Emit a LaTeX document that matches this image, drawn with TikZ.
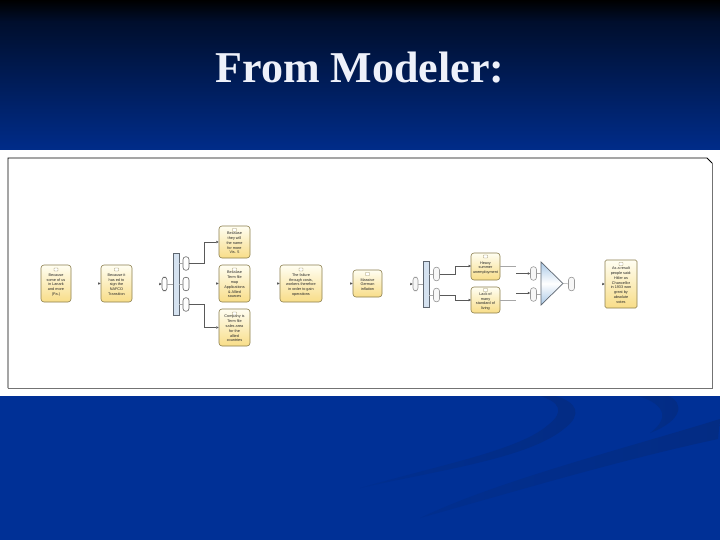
\documentclass[tikz,border=0pt]{standalone}
\usepackage{fontspec}
\setmainfont{Liberation Serif}
\setsansfont{Liberation Sans}
\usetikzlibrary{shapes.misc,shapes.geometric,arrows.meta,calc}
\definecolor{navy}{HTML}{003096}
\definecolor{swoosh}{HTML}{032C84}
\definecolor{boxedge}{HTML}{8C7F4E}
\definecolor{boxtop}{HTML}{FFFEF2}
\definecolor{boxbot}{HTML}{F8DD88}
\definecolor{barfill}{HTML}{D5E2F0}
\definecolor{baredge}{HTML}{5E6670}
\definecolor{titlecol}{HTML}{EEF1FA}
\definecolor{triblue}{HTML}{A9C8E6}
\tikzset{
  x=1pt,y=-1pt,
  taskbox/.style={draw=boxedge,line width=.6pt,rounded corners=3pt,top color=boxtop,bottom color=boxbot,
     font=\sffamily\fontsize{3.8}{4.8}\selectfont,align=center,text=black!85,inner sep=0pt,text depth=0pt},
  gatenode/.style={draw=black!60,fill=white,line width=.6pt,rounded corners=2.7pt,inner sep=0pt,minimum width=6pt,minimum height=13.5pt},
  palegate/.style={gatenode,draw=black!40,fill=black!3},
  barnode/.style={draw=baredge,fill=barfill,line width=.7pt,inner sep=0pt,minimum width=6pt},
  wire/.style={draw=black!65,line width=.6pt},
  thin wire/.style={draw=black!35,line width=.5pt},
  tip/.style={wire,-{Triangle[length=2.4pt,width=2.4pt]}},
  swooshfill/.style={left color=navy,right color=swoosh,draw=none},
}
\begin{document}
\begin{tikzpicture}
\useasboundingbox (0,0) rectangle (720,540);
% backdrop
\shade[top color=black,bottom color=black!70!navy,draw=none] (0,0) rectangle (720,22);
\shade[top color=black!70!navy,bottom color=navy!92!black,draw=none] (0,22) rectangle (720,150.5);
\fill[navy] (0,396) rectangle (720,540);
\path[swooshfill,left color=navy!70!swoosh,right color=swoosh] (360,488) .. controls (440,465) and (520,450) .. (548,425) .. controls (565,412) and (560,402) .. (540,396)
  -- (555,396) .. controls (578,402) and (582,415) .. (565,428) .. controls (530,458) and (440,470) .. (360,488) -- cycle;
\path[swooshfill,left color=swoosh!70!navy,right color=swoosh] (638,396) -- (668,396) .. controls (684,402) and (684,420) .. (650,433) .. controls (668,420) and (668,405) .. (638,396) -- cycle;
\path[swooshfill,left color=navy!60!swoosh,right color=swoosh] (420,518) .. controls (500,480) and (620,450) .. (720,419) -- (718,439) .. controls (620,460) and (520,490) .. (420,518) -- cycle;
\fill[white] (0,150) rectangle (720,396);
% frame
\draw[black!55,line width=.9pt] (712,163) -- (712,388) -- (8,388);
\draw[black,line width=.9pt] (8,388) -- (8,158) -- (707,158) -- (712,163);
% title
\node (title) [font=\bfseries\fontsize{44}{48}\selectfont,text=titlecol] at (360,68) {From Modeler:};
% tasks
\node (a) [taskbox,minimum width=30pt,minimum height=37pt] at (56,283.5) {\\Because\\some of us\\in Lanark\\and more\\(Pa.)};
\node (b) [taskbox,minimum width=31pt,minimum height=37pt] at (116.5,283.5) {\\Because it\\has ed to\\sign the\\NAFCO\\Transition};
\node (c1) [taskbox,minimum width=31pt,minimum height=32pt] at (234.5,242) {\\Because\\they will\\the name\\for more\\Vis. 5};
\node (c2) [taskbox,minimum width=31pt,minimum height=37pt] at (234.5,283.5) {\\Because\\Term file\\map\\Applications\\\& Allied\\sources};
\node (c3) [taskbox,minimum width=31pt,minimum height=37pt] at (234.5,327.5) {\\Company is\\Term file\\sales area\\for the\\allied\\countries};
\node (d) [taskbox,minimum width=42pt,minimum height=37pt] at (301,283.5) {\\The failure\\through costs,\\workers therefore\\in order to gain\\operations};
\node (e) [taskbox,minimum width=29pt,minimum height=27pt] at (367.5,283.5) {\\Massive\\German\\inflation};
\node (f1) [taskbox,minimum width=29pt,minimum height=27pt] at (485.5,266.5) {\\Heavy\\summer\\unemployment};
\node (f2) [taskbox,minimum width=29pt,minimum height=26pt] at (485.5,300) {\\Lack of\\many\\standard of\\living};
\node (g) [taskbox,minimum width=32pt,minimum height=48pt,rounded corners=1.5pt] at (621,284) {\\As a result\\people said:\\Hitler as\\Chancellor\\in 1933 won\\great by\\absolute\\votes};
% icons
\foreach \n/\y in {a/269.5,b/269.5,c1/230,c2/269.5,c3/313.5,d/269.5,e/274,f1/256.5,f2/290,g/264}{
  \node[draw=boxedge!80,fill=white,line width=.4pt,rounded corners=.5pt,inner sep=0pt,minimum width=4pt,minimum height=3pt] at (\n.north |- 0,\y) {};
}
% first split / join
\node (s1) [gatenode,minimum width=5pt] at (164.5,284) {};
\node (bar1) [barnode,minimum height=62pt] at (176,284) {};
\node (g1) [gatenode] at (186,263.5) {};
\node (g2) [gatenode] at (186,284) {};
\node (g3) [gatenode] at (186,304.5) {};
\draw[thin wire] (s1) -- (bar1);
\draw[thin wire] (bar1.east |- g1) -- (g1);
\draw[thin wire] (bar1.east |- g2) -- (g2);
\draw[thin wire] (bar1.east |- g3) -- (g3);
\draw[tip] (g1.east) -- (204,263.5) |- (c1.west);
\draw[tip] (g3.east) -- (204,304.5) |- (c3.west);
% second split / join
\node (s2) [palegate,minimum width=5pt] at (415.5,284) {};
\node (bar2) [barnode,minimum height=46pt] at (426,284) {};
\node (g4) [palegate] at (436.5,274) {};
\node (g5) [palegate] at (436.5,295) {};
\draw[thin wire] (s2) -- (bar2);
\draw[thin wire] (bar2.east |- g4) -- (g4);
\draw[thin wire] (bar2.east |- g5) -- (g5);
\draw[tip] (g4.east) -- (455,274) |- (471,266);
\draw[tip] (g5.east) -- (455,295) |- (471,300);
% merge
\node (g6) [palegate] at (533.5,273.5) {};
\node (g7) [palegate] at (533.5,294.5) {};
\coordinate (m1) at (516,266);
\coordinate (m2) at (516,300);
\coordinate (m3) at (516,273.5);
\coordinate (m4) at (516,293);
\draw[thin wire] (f1.east |- m1) -- (m1);
\draw[thin wire] (f2.east |- m2) -- (m2);
\draw[tip] (m3) -- (g6.west);
\draw[tip] (m4) -- (g7.west |- m4);
\shade[draw=baredge,line width=.7pt,top color=triblue,bottom color=triblue,middle color=white] (541,262) -- (563,283.5) -- (541,305) -- cycle;
\coordinate (apex) at (563,283.5);
\node (g8) [palegate] at (571.5,284) {};
\draw[thin wire] (apex) -- (g8);
\draw[thin wire] (g6.east) -- (541,273.5);
\draw[thin wire] (g7.east) -- (541,294.5);
% entry stubs
\foreach \n/\s in {b/1.6,c2/1.6,d/1.6,e/1.6,g/1.6,s1/1.6,s2/1.6}{
  \draw[tip] ($(\n.west)+(-\s,0)$) -- (\n.west);
}
\end{tikzpicture}
\end{document}
